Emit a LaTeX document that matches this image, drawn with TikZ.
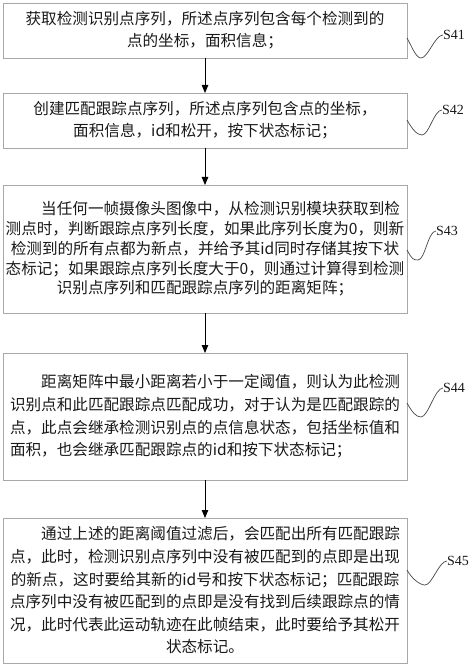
\documentclass[tikz,border=0pt]{standalone}
\usepackage{fontspec}
\setmainfont{Liberation Serif}
\newfontfamily\cjk{Noto Sans CJK SC}
\usetikzlibrary{arrows.meta,calc,positioning}
\definecolor{boxGray}{RGB}{168,168,168}
\definecolor{squigGray}{RGB}{70,70,70}
\definecolor{txtInk}{RGB}{25,25,25}
\tikzset{
  stepbox/.style={draw=boxGray, line width=0.9pt, minimum width=404pt,
    inner sep=0pt, outer sep=0pt, align=center, text=txtInk,
    font=\cjk\fontsize{15.6}{21.9}\selectfont},
  steplabel/.style={anchor=west, inner sep=0pt, text=txtInk,
    font=\fontsize{14}{14}\selectfont},
  flowarrow/.style={-{Triangle[length=8pt,width=6.5pt]}, line width=0.8pt},
  squig/.style={draw=squigGray, line width=0.7pt},
}

\begin{document}
\begin{tikzpicture}[x=1pt,y=-1pt]
  \useasboundingbox (0,0) rectangle (474,668);
  % step boxes
  \node[stepbox, minimum height=55pt] (box41) at (205,30.5)
    {获取检测识别点序列，所述点序列包含每个检测到的\\点的坐标，面积信息；};
  \node[stepbox, minimum height=55pt] (box42) at (205,120.5)
    {创建匹配跟踪点序列，所述点序列包含点的坐标，\\面积信息，id和松开，按下状态标记；};
  \node[stepbox, minimum height=128pt, font=\cjk\fontsize{15.6}{19.8}\selectfont] (box43) at (205,249)
    {\hspace*{2em}当任何一帧摄像头图像中，从检测识别模块获取到检\\
     测点时，判断跟踪点序列长度，如果此序列长度为0，则新\\
     检测到的所有点都为新点，并给予其id同时存储其按下状\\
     态标记；如果跟踪点序列长度大于0，则通过计算得到检测\\
     识别点序列和匹配跟踪点序列的距离矩阵；};
  \node[stepbox, minimum height=127pt, font=\cjk\fontsize{15.6}{22.6}\selectfont] (box44) at (205,416.5)
    {\hspace*{2em}距离矩阵中最小距离若小于一定阈值，则认为此检测\\
     识别点和此匹配跟踪点匹配成功，对于认为是匹配跟踪的\\
     点，此点会继承检测识别点的点信息状态，包括坐标值和\\
     \makebox[390pt][l]{面积，也会继承匹配跟踪点的id和按下状态标记；}};
  \node[stepbox, minimum height=145pt, font=\cjk\fontsize{15.6}{22.6}\selectfont] (box45) at (205,590.5)
    {\hspace*{2em}通过上述的距离阈值过滤后，会匹配出所有匹配跟踪\\
     点，此时，检测识别点序列中没有被匹配到的点即是出现\\
     的新点，这时要给其新的id号和按下状态标记；匹配跟踪\\
     点序列中没有被匹配到的点即是没有找到后续跟踪点的情\\
     况，此时代表此运动轨迹在此帧结束，此时要给予其松开\\
     状态标记。};
  % step labels
  \node[steplabel] (lab41) at (443,35) {S41};
  \node[steplabel] (lab42) at (442,110) {S42};
  \node[steplabel] (lab43) at (436,231) {S43};
  \node[steplabel] (lab44) at (443,388) {S44};
  \node[steplabel] (lab45) at (447,561) {S45};
  % arrows between steps
  \foreach \a/\b in {41/42,42/43,43/44,44/45}
    \draw[flowarrow] (box\a) -- (box\b);
  % squiggly leaders
  \foreach \n/\dy/\bx/\by in {41/35/14/20, 42/27/15/15, 43/65/11/10, 44/50/14/14, 45/52/18/15}
    \draw[squig] ($(box\n.north east)+(0,\dy)$)
      .. controls +(5,9) and +(-5,0) .. ++(\bx,\by)
      .. controls +(7,0) and +(-8,0) .. (lab\n.west);
\end{tikzpicture}
\end{document}
